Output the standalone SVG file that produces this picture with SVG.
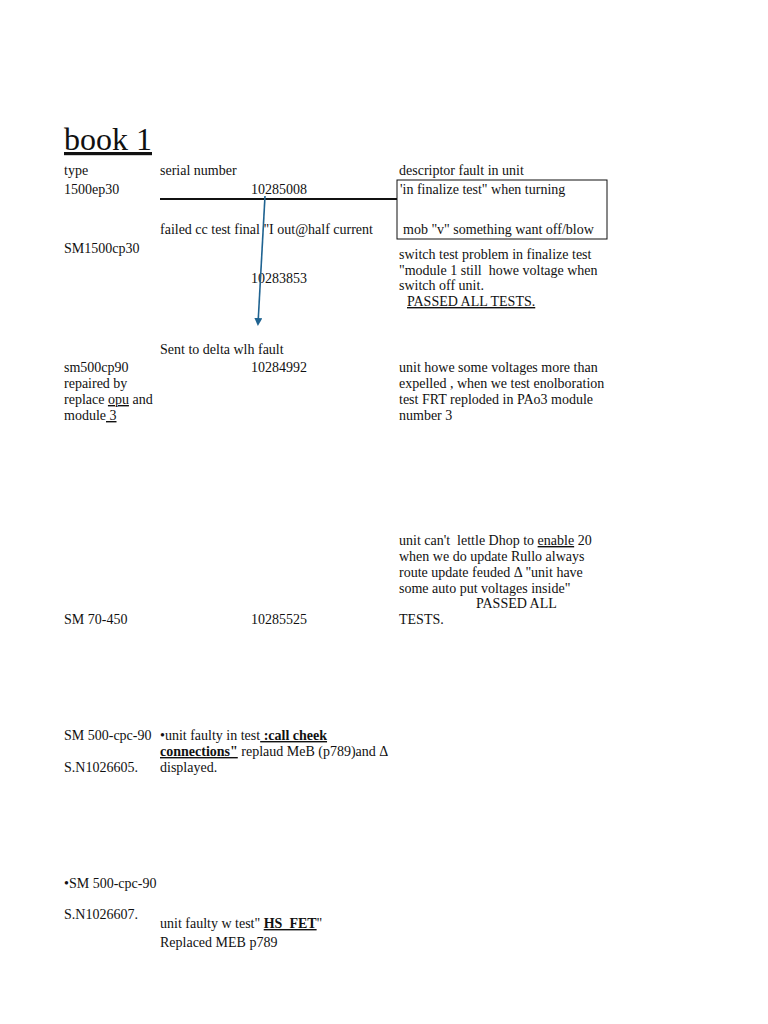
<svg xmlns="http://www.w3.org/2000/svg" width="768" height="1024" viewBox="0 0 768 1024" font-family="'Liberation Serif', 'Times New Roman', serif">
<style>
text{font-family:'Liberation Serif','Times New Roman',serif;font-size:14px;fill:#111;white-space:pre}
.u{text-decoration:underline}
.b{font-weight:bold;text-decoration:underline}
</style>
<defs><marker id="ah" markerWidth="8" markerHeight="8" refX="6" refY="4" orient="auto" markerUnits="userSpaceOnUse"><path d="M0,0 L8,4 L0,8 z" fill="#1f6391"/></marker></defs>
<rect width="768" height="1024" fill="#fff"/>
<text x="64" y="150" style="font-size:32px" class="u">book 1</text>
<g id="header"><text x="64" y="175">type</text><text x="160" y="175">serial number</text><text x="399" y="175">descriptor fault in unit</text></g>
<g id="box"><rect x="397" y="180" width="210" height="59" fill="none" stroke="#111" stroke-width="1"/>
<text x="400" y="194">'in finalize test" when turning</text><text x="403" y="234">mob "v" something want off/blow</text></g>
<g id="row1"><text x="64" y="194">1500ep30</text><text x="251" y="194">10285008</text>
<text x="160" y="234">failed cc test final "I out@half current</text></g>
<g id="row2"><text x="64" y="253">SM1500cp30</text><text x="251" y="283">10283853</text>
<text x="399" y="259">switch test problem in finalize test</text><text x="399" y="275">"module 1 still  howe voltage when</text><text x="399" y="290">switch off unit.</text><text x="407" y="306" class="u">PASSED ALL TESTS.</text></g>
<g id="row3"><text x="160" y="354">Sent to delta wlh fault</text>
<text x="64" y="372">sm500cp90</text><text x="64" y="388">repaired by</text><text x="64" y="404">replace <tspan class="u">opu</tspan> and</text><text x="64" y="420">module<tspan class="u"> 3</tspan></text>
<text x="251" y="372">10284992</text>
<text x="399" y="372">unit howe some voltages more than</text><text x="399" y="388">expelled , when we test enolboration</text><text x="399" y="404">test FRT reploded in PAo3 module</text><text x="399" y="420">number 3</text></g>
<g id="row4"><text x="399" y="545">unit can't  lettle Dhop to <tspan class="u">enable</tspan> 20</text><text x="399" y="561">when we do update Rullo always</text><text x="399" y="577">route update feuded Δ "unit have</text><text x="399" y="593">some auto put voltages inside"</text><text x="476" y="608">PASSED ALL</text>
<text x="64" y="624">SM 70-450</text><text x="251" y="624">10285525</text><text x="399" y="624">TESTS.</text></g>
<g id="row5"><text x="64" y="740">SM 500-cpc-90</text><text x="160" y="740">•unit faulty in test<tspan class="b"> :call cheek</tspan></text>
<text x="160" y="756"><tspan class="b">connections"</tspan> replaud MeB (p789)and Δ</text>
<text x="64" y="772">S.N1026605.</text><text x="160" y="772">displayed.</text></g>
<g id="row6"><text x="64" y="888">•SM 500-cpc-90</text><text x="64" y="919">S.N1026607.</text>
<text x="160" y="928">unit faulty w test" <tspan class="b">HS  FET</tspan>"</text><text x="160" y="947">Replaced MEB p789</text></g>
<g id="connectors"><line x1="160" y1="199" x2="397" y2="199" stroke="#111" stroke-width="2"/>
<line x1="265" y1="196" x2="258" y2="324" stroke="#1f6391" stroke-width="1.6" marker-end="url(#ah)"/></g>
</svg>
